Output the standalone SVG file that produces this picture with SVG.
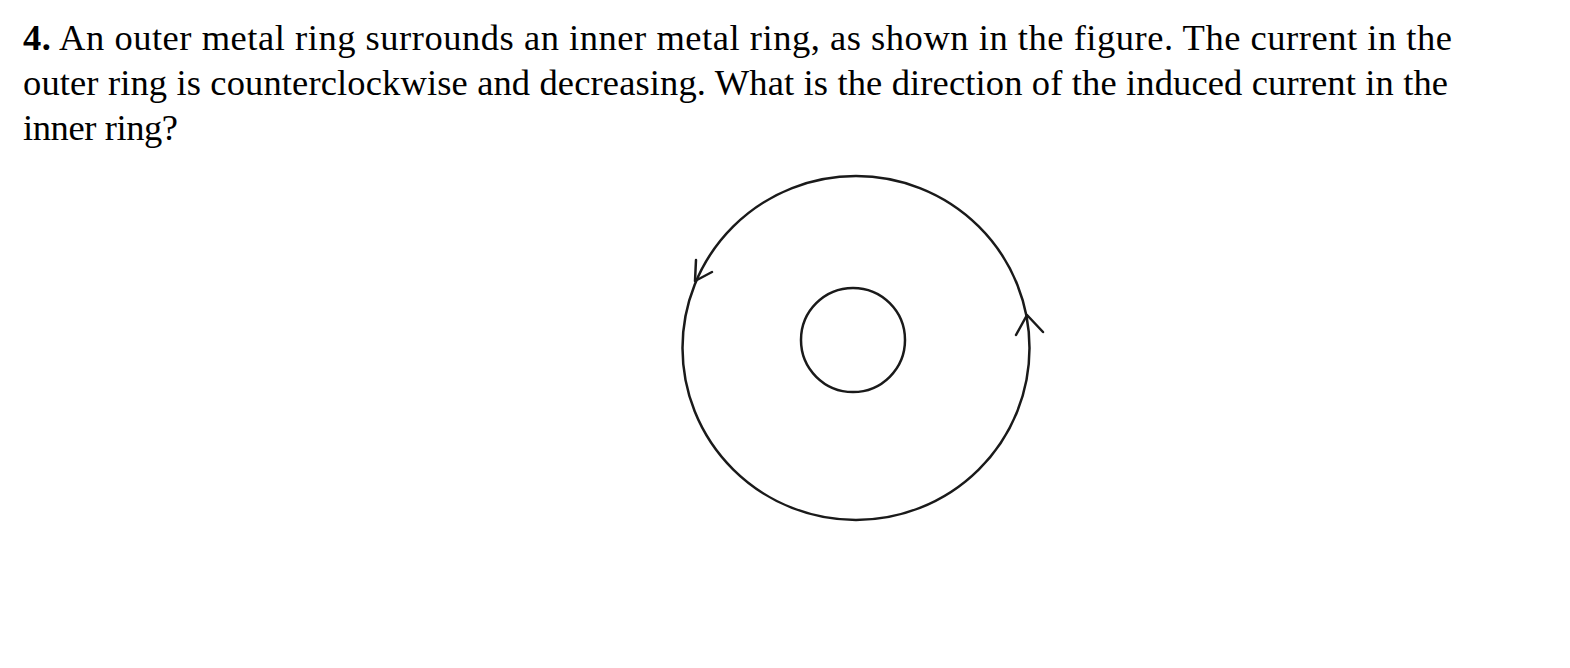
<svg xmlns="http://www.w3.org/2000/svg" width="1570" height="668" viewBox="0 0 1570 668">
<style>
.t{font-family:"Liberation Serif","Times New Roman",serif;font-size:36.5px;fill:#000}
.ring{fill:none;stroke:#1a1a1a;stroke-width:2.5}
.ah{fill:none;stroke:#1a1a1a;stroke-width:2.5;stroke-linecap:round;stroke-linejoin:round}
</style>
<rect width="1570" height="668" fill="#fff"/>
<g id="question">
<text class="t" x="23" y="50" textLength="1429" lengthAdjust="spacing"><tspan font-weight="bold">4.</tspan> An outer metal ring surrounds an inner metal ring, as shown in the figure. The current in the</text>
<text class="t" x="23" y="95" textLength="1425" lengthAdjust="spacing">outer ring is counterclockwise and decreasing. What is the direction of the induced current in the</text>
<text class="t" x="23" y="140" textLength="155" lengthAdjust="spacing">inner ring?</text>
</g>
<g id="outer-ring">
<ellipse class="ring" cx="856" cy="348" rx="173.5" ry="172"/>
</g>
<g id="inner-ring">
<circle class="ring" cx="853" cy="340" r="52"/>
</g>
<g id="connectors">
<path class="ah" d="M696,260 L695,281 L712,272"/>
<path class="ah" d="M1016,335 L1027,315 L1043,332"/>
</g>
</svg>
